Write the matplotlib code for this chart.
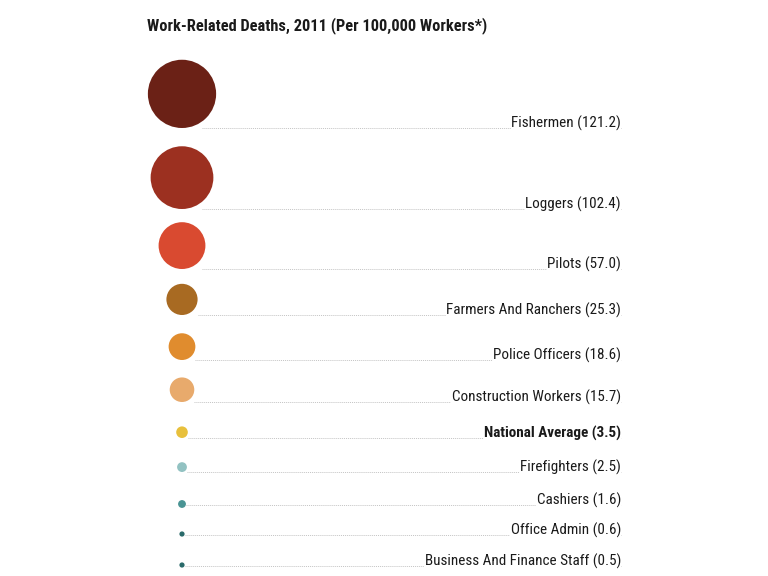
import numpy as np
import matplotlib
matplotlib.use("Agg")
import matplotlib.pyplot as plt
from matplotlib.patches import Circle

# Work-related deaths per 100,000 workers, 2011
jobs = ["Fishermen", "Loggers", "Pilots", "Farmers And Ranchers", "Police Officers",
        "Construction Workers", "National Average", "Firefighters", "Cashiers",
        "Office Admin", "Business And Finance Staff"]
rates = [121.2, 102.4, 57.0, 25.3, 18.6, 15.7, 3.5, 2.5, 1.6, 0.6, 0.5]
colors = ["#6b2116", "#9c3020", "#d94a30", "#a86a22", "#e08c2e", "#e8aa6c",
          "#e8c03c", "#92c2c2", "#4a9494", "#2a6a6a", "#2a6a6a"]

# layout: baseline (pixels from top) of each row's guide line
row_y = [128, 209, 269, 315, 360, 402, 438, 472, 505, 535, 566]

W, H = 768, 576
fig = plt.figure(figsize=(W / 100, H / 100), dpi=100)
ax = fig.add_axes([0, 0, 1, 1])
ax.set_xlim(0, W)
ax.set_ylim(H, 0)
ax.axis("off")

font = ["Roboto Condensed", "DejaVu Sans"]

ax.text(147, 26, "Work-Related Deaths, 2011 (Per 100,000 Workers*)",
        fontsize=11.8, fontweight="bold", family=font, color="#1a1a1a",
        ha="left", va="center")

# circle area proportional to rate
radii = np.maximum(3.1 * np.sqrt(rates), 2.6)
cx = 182
text_x = 621
for job, v, c, r, y in zip(jobs, rates, colors, radii, row_y):
    cy = y - r if r > 4 else y - 1
    ax.add_patch(Circle((cx, cy), r, color=c, lw=0))
    ax.plot([cx + min(r, 20), text_x], [y, y], ls=(0, (1, 1)), color="#c4c4c4", lw=0.7)
    bold = job == "National Average"
    ax.text(text_x, y - 0.5, f"{job} ({v:.1f})", fontsize=10.9, family=font,
            fontweight="bold" if bold else "normal", color="#1a1a1a",
            ha="right", va="baseline",
            bbox=dict(facecolor="white", edgecolor="none", pad=0.3))

fig.savefig("out.png", dpi=100)
